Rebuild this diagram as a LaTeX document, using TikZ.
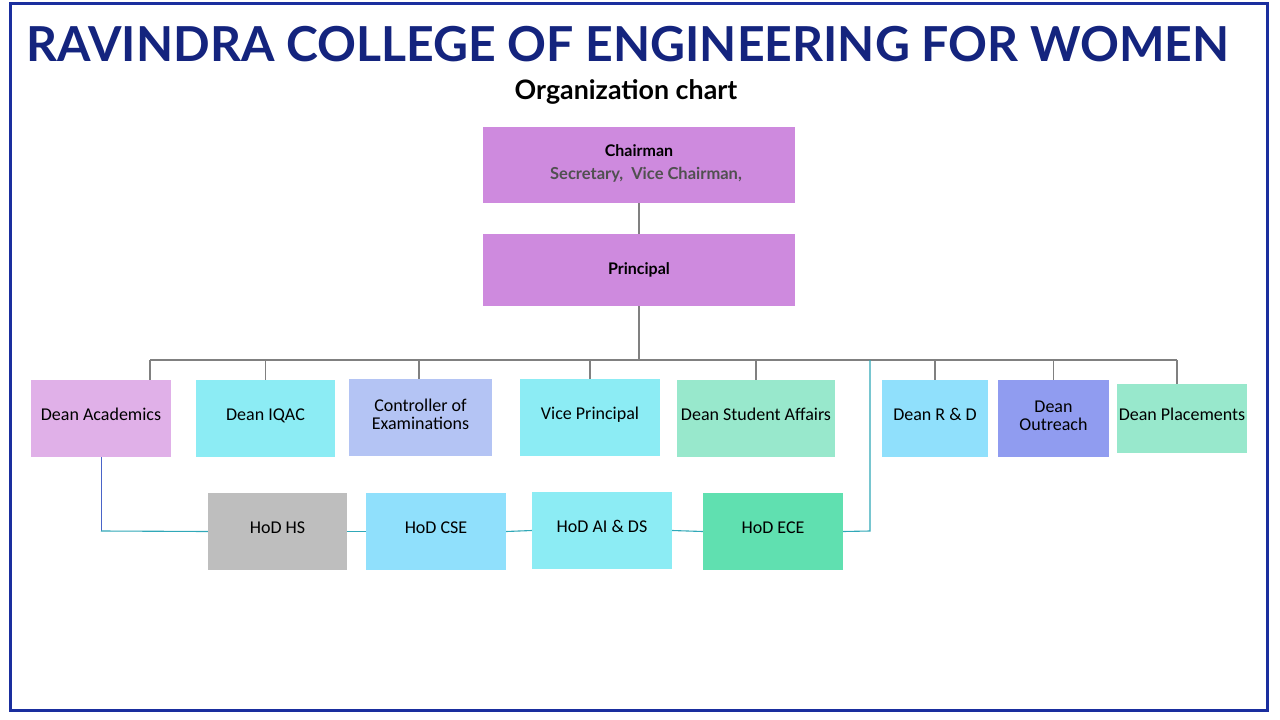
\documentclass[tikz,border=0pt]{standalone}
\usepackage{fontspec}
\setmainfont{Carlito}
\newfontfamily\latofont{Lato}
\definecolor{frameblue}{HTML}{1A2E9E}
\definecolor{titleblue}{HTML}{14247E}
\definecolor{chairpurple}{HTML}{CE8ADE}
\definecolor{dapurple}{HTML}{E0B0E8}
\definecolor{cyanbox}{HTML}{8CECF4}
\definecolor{lavbox}{HTML}{B4C4F4}
\definecolor{mintbox}{HTML}{98E8CC}
\definecolor{skybox}{HTML}{90E0FC}
\definecolor{periwinkle}{HTML}{909CF0}
\definecolor{greybox}{HTML}{BEBEBE}
\definecolor{greenbox}{HTML}{60E0B0}
\definecolor{connGrey}{HTML}{808080}
\definecolor{tealline}{HTML}{30A8B8}
\definecolor{bluishline}{HTML}{4A64C8}
\definecolor{subgrey}{HTML}{505050}
\tikzset{
  box/.style={draw=none, inner sep=0pt, align=center, font=\fontsize{18}{18.5}\selectfont, text=black, text height=14pt, text depth=9.4pt},
  twoline/.style={text height=34pt, text depth=9.4pt},
  topbox/.style={draw=none, inner sep=0pt, align=center, fill=chairpurple},
  conn/.style={draw=connGrey, line width=1.1pt},
  tconn/.style={draw=tealline, line width=1.1pt},
}
\begin{document}
\begin{tikzpicture}[x=1pt,y=-1pt]
\useasboundingbox (0,0) rectangle (1280,720);
\fill[white] (0,0) rectangle (1280,720);
\draw[frameblue, line width=3pt] (10,3) rectangle (1267,710);

\node[font=\latofont\bfseries\fontsize{48.2}{52}\selectfont, text=titleblue] (title) at (628,44) {RAVINDRA COLLEGE OF ENGINEERING FOR WOMEN};
\node[font=\latofont\bfseries\fontsize{26.8}{30}\selectfont] (sub) at (626,92) {Organization chart};

\node[topbox, minimum width=312pt, minimum height=76pt] (chair) at (639,165) {};
\node[font=\latofont\bfseries\fontsize{16}{18}\selectfont] (chairtxt) at (639,151) {Chairman};
\node[font=\latofont\bfseries\fontsize{16.5}{18}\selectfont, text=subgrey] (chairsub) at (646,175) {Secretary,\ \ Vice Chairman,};
\node[topbox, minimum width=312pt, minimum height=72pt, font=\latofont\bfseries\fontsize{16}{18}\selectfont] (prin) at (639,270) {Principal};

\node[box, fill=dapurple, minimum width=140pt, minimum height=77pt] (da) at (101,418.5) {Dean Academics};
\node[box, fill=cyanbox, minimum width=139pt, minimum height=77pt] (iqac) at (265.5,418.5) {Dean IQAC};
\node[box, twoline, fill=lavbox, minimum width=143pt, minimum height=77pt] (coe) at (420.5,417.5) {Controller of\\Examinations};
\node[box, fill=cyanbox, minimum width=140pt, minimum height=77pt] (vp) at (590,417.5) {Vice Principal};
\node[box, fill=mintbox, minimum width=158pt, minimum height=77pt] (dsa) at (756,418.5) {Dean Student Affairs};
\node[box, fill=skybox, minimum width=106pt, minimum height=77pt] (rd) at (935,418.5) {Dean R \& D};
\node[box, twoline, fill=periwinkle, minimum width=111pt, minimum height=77pt] (out) at (1053.5,418.5) {Dean\\Outreach};
\node[box, fill=mintbox, minimum width=130pt, minimum height=69pt] (dp) at (1182,418.5) {Dean Placements};

\node[box, fill=greybox, minimum width=139pt, minimum height=77pt] (hs) at (277.5,531.5) {HoD HS};
\node[box, fill=skybox, minimum width=140pt, minimum height=77pt] (cse) at (436,531.5) {HoD CSE};
\node[box, fill=cyanbox, minimum width=140pt, minimum height=77pt] (ai) at (602,530.5) {HoD AI \& DS};
\node[box, fill=greenbox, minimum width=140pt, minimum height=77pt] (ece) at (773,531.5) {HoD ECE};

\draw[conn] (chair.south) -- (prin.north);
\coordinate (busL) at (150,360);
\coordinate (busR) at (1177,360);
\coordinate (busM) at (639,360);
\draw[conn] (prin.south) -- (busM);
\draw[conn] (busL) -- (busR);
\draw[conn] (busL) -- (busL |- da.north);
\draw[conn] (busR) -- (busR |- dp.north);
\foreach \n in {iqac,vp,dsa,rd,out}{\draw[conn] (\n.north |- busL) -- (\n.north);}
\draw[conn] (419,360) -- (coe.north -| 419,0);

\coordinate (daturn) at (101,531);
\draw[bluishline, line width=1pt] (da.south) -- (daturn);
\draw[tconn] (daturn) -- (hs.west);
\draw[tconn] (hs.east) -- (cse.west);
\draw[tconn] (cse.east) -- (ai.west);
\draw[tconn] (ai.east) -- (ece.west);
\coordinate (eceturn) at (870,531);
\coordinate (ecetop) at (870,360);
\draw[tconn] (ece.east) -- (eceturn) -- (ecetop);
\end{tikzpicture}
\end{document}
